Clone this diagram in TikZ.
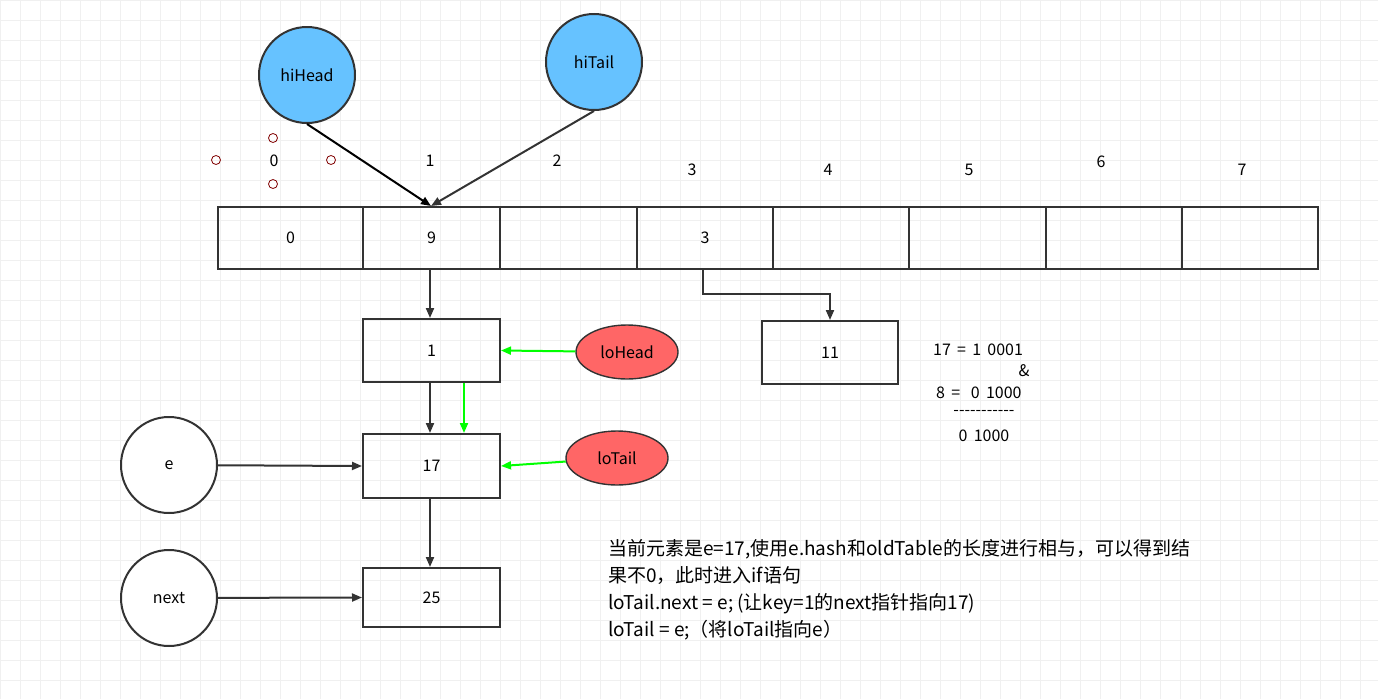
\documentclass[tikz,border=0pt]{standalone}
\usepackage{fontspec}
\setmainfont{Noto Sans CJK SC}
\usetikzlibrary{positioning, arrows.meta, shapes.geometric}
\tikzset{
  cell/.style={draw=black!80, line width=2pt, minimum width=136pt, minimum height=62pt, inner sep=0pt, font=\fontsize{16}{18}\selectfont},
  bluenode/.style={circle, draw=black!80, line width=2pt, fill=blue!40!cyan!60, minimum size=96pt, font=\fontsize{16}{18}\selectfont},
  rednode/.style={ellipse, draw=black!80, line width=1.4pt, fill=red!60, minimum width=102pt, minimum height=54pt, inner sep=0pt, font=\fontsize{16}{18}\selectfont},
  whitenode/.style={circle, draw=black!80, line width=2pt, fill=white, minimum size=96pt, font=\fontsize{16}{18}\selectfont},
  link/.style={-{Triangle[length=10pt,width=8pt]}, line width=2pt, draw=black!80},
  glink/.style={-{Triangle[length=10pt,width=8pt]}, line width=2pt, draw=green},
  idx/.style={font=\fontsize{16}{18}\selectfont},
  handle/.style={circle, draw=red!50!black, line width=0.8pt, minimum size=9pt, inner sep=0pt}
}
\begin{document}
\begin{tikzpicture}[x=1pt,y=-1pt]
  \useasboundingbox (0,0) rectangle (1378,699);
  % background grid
  \draw[black!6, line width=0.8pt] (0,0) grid[step=20pt] (1378,699);
  % array
  \foreach \x/\w/\v [count=\i from 0] in {217/145/0,362/137/9,499/137/,636/136/3,772/136/,908/137/,1045/136/,1181/136/}
    \node[cell, anchor=north west, minimum width=\w pt] (c\i) at (\x,206) {\v};
  % indices
  \foreach \x/\y/\t in {274/161/0,430/161/1,557/161/2,692/170/3,828/170/4,969/170/5,1101/162/6,1242/170/7}
    \node[idx] at (\x,\y) {\t};
  \foreach \x/\y in {273/138,216/160,331/160,273/184}
    \node[handle] at (\x,\y) {};
  % pointers
  \node[bluenode] (hiHead) at (307,75) {hiHead};
  \node[bluenode] (hiTail) at (594,62) {hiTail};
  \coordinate (top9) at (431,206);
  \draw[link, draw=black] (hiHead.south) -- (top9);
  \draw[link] (hiTail.south) -- (top9);
  % chains
  \node[cell, anchor=north west, minimum width=137pt, minimum height=63pt] (n1) at (362,318) {1};
  \node[cell, anchor=north west, minimum width=137pt, minimum height=64pt] (n17) at (362,433) {17};
  \node[cell, anchor=north west, minimum width=137pt, minimum height=59pt] (n25) at (362,567) {25};
  \node[cell, anchor=north west, minimum width=136pt, minimum height=63pt] (n11) at (761,320) {11};
  \draw[link] (c1.south -| 430,0) -- (n1.north -| 430,0);
  \draw[link] (n1.south -| 430,0) -- (n17.north -| 430,0);
  \draw[link] (n17.south -| 430,0) -- (n25.north -| 430,0);
  \draw[glink] (n1.south -| 464,0) -- (n17.north -| 464,0);
  \draw[link] (c3.south -| 703,0) -- (703,294) -| (n11.north);
  % lo pointers
  \node[rednode] (loHead) at (627,352) {loHead};
  \node[rednode] (loTail) at (617,458) {loTail};
  \draw[glink] (loHead) -- (n1.east);
  \draw[glink] (loTail) -- (n17.east);
  \node[whitenode] (e) at (169,465) {e};
  \node[whitenode] (next) at (169,598) {next};
  \draw[link] (e) -- (n17.west);
  \draw[link] (next) -- (n25.west);
  % binary
  \begin{scope}[every node/.style={font=\fontsize{16}{18}\selectfont, inner sep=0pt}]
    \node[anchor=west] (b1) at (933,350) {17 \,=\, 1\, 0001};
    \node (b2) at (1024,371) {\&};
    \node[anchor=west] (b3) at (936,393) {8 \,= \ \ 0\, 1000};
    \node (b4) at (984,413) {-{}-{}-{}-{}-{}-{}-{}-{}-{}-{}-};
    \node (b5) at (984,436) {0\, 1000};
  \end{scope}
  % note
  \node[anchor=north west, align=left, inner sep=0pt, font=\fontsize{19}{27}\selectfont] (note) at (608,539)
    {当前元素是e=17,使用e.hash和oldTable的长度进行相与，可以得到结\\果不0，此时进入if语句\\loTail.next = e; (让key=1的next指针指向17)\\loTail = e;（将loTail指向e）};
\end{tikzpicture}
\end{document}
